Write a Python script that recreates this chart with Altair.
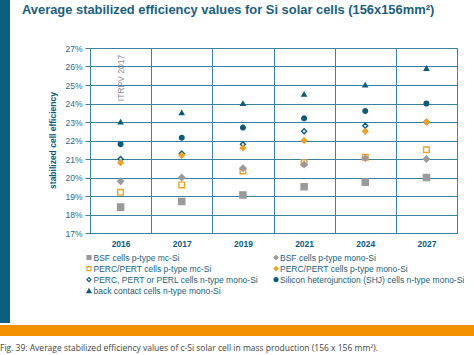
import altair as alt
import pandas as pd

years = ["2016", "2017", "2019", "2021", "2024", "2027"]
series_names = [
    "BSF cells p-type mc-Si",
    "PERC/PERT cells p-type mc-Si",
    "BSF cells p-type mono-Si",
    "PERC, PERT or PERL cells n-type mono-Si",
    "PERC/PERT cells p-type mono-Si",
    "Silicon heterojunction (SHJ) cells n-type mono-Si",
    "back contact cells n-type mono-Si",
]
bsf_mc = [18.4, 18.7, 19.05, 19.5, 19.75, 20.0]
perc_mc = [19.2, 19.6, 20.35, 20.8, 21.1, 21.5]
bsf_mono = [19.8, 20.0, 20.5, 20.7, 21.05, 21.0]
n_perc = [21.0, 21.3, 21.8, 22.5, 22.8, 23.0]
perc_mono = [20.8, 21.2, 21.6, 22.0, 22.5, 23.0]
shj = [21.8, 22.15, 22.7, 23.2, 23.6, 24.0]
bc = [23.0, 23.5, 24.0, 24.5, 25.0, 25.9]
values = [bsf_mc, perc_mc, bsf_mono, n_perc, perc_mono, shj, bc]

legend_order = [series_names[i] for i in [0, 2, 1, 4, 3, 5, 6]]
shapes = {series_names[0]: "square", series_names[1]: "square", series_names[2]: "diamond",
          series_names[3]: "diamond", series_names[4]: "diamond", series_names[5]: "circle",
          series_names[6]: "triangle-up"}
TEAL = "#0e5a7a"
GRAY = "#9a9a9a"
ORANGE = "#eda12a"
strokes = {series_names[0]: GRAY, series_names[1]: ORANGE, series_names[2]: GRAY,
           series_names[3]: TEAL, series_names[4]: ORANGE, series_names[5]: TEAL,
           series_names[6]: TEAL}
fills = {series_names[0]: GRAY, series_names[1]: "white", series_names[2]: GRAY,
         series_names[3]: "white", series_names[4]: ORANGE, series_names[5]: TEAL,
         series_names[6]: TEAL}
sizes = {series_names[0]: 38, series_names[1]: 38, series_names[2]: 18,
         series_names[3]: 34, series_names[4]: 18, series_names[5]: 42,
         series_names[6]: 38}

rows = []
for name, vals in zip(series_names, values):
    for y, v in zip(years, vals):
        rows.append({"year": y, "series": name, "eff": v})
df = pd.DataFrame(rows)

W, H = 367, 185
OX, OY = 90, 48

shape_scale = alt.Scale(domain=legend_order, range=[shapes[s] for s in legend_order])
stroke_scale = alt.Scale(domain=legend_order, range=[strokes[s] for s in legend_order])
fill_scale = alt.Scale(domain=legend_order, range=[fills[s] for s in legend_order])

points = alt.Chart(df).mark_point(filled=False, strokeWidth=1.4, opacity=1).encode(
    x=alt.X("year:N", sort=years, title=None,
            scale=alt.Scale(paddingInner=0, paddingOuter=0),
            axis=alt.Axis(tickBand="extent", ticks=False, domain=False, grid=True,
                          gridColor="#3a80a3", gridWidth=1, labelAngle=0,
                          labelFont="Liberation Sans", labelFontWeight="bold",
                          labelFontSize=8.5, labelColor=TEAL, labelPadding=6)),
    y=alt.Y("eff:Q", scale=alt.Scale(domain=[17, 27], nice=False, zero=False),
            axis=alt.Axis(values=list(range(17, 28)), labelExpr="datum.value + '%'",
                          grid=True, gridColor="#3a80a3", gridWidth=1,
                          domain=True, domainColor="#3a80a3", tickColor="#3a80a3",
                          tickSize=5, labelFont="Liberation Sans", labelFontSize=8.5,
                          labelColor="#2a6a88", labelPadding=3,
                          title="stabilized cell efficiency", titleFont="Liberation Sans",
                          titleFontSize=8.5, titleFontWeight="bold", titleColor=TEAL,
                          titleAngle=270, titleX=-38, titleY=92, titleAlign="center",
                          titleBaseline="middle")),
    shape=alt.Shape("series:N", scale=shape_scale, legend=None),
    stroke=alt.Stroke("series:N", scale=stroke_scale, legend=None),
    fill=alt.Fill("series:N", scale=fill_scale, legend=None),
    size=alt.Size("series:N", scale=alt.Scale(domain=legend_order,
                  range=[sizes[s] for s in legend_order]), legend=None),
)

# manual two-column legend (row-major order as in the reference)
leg_df = pd.DataFrame({
    "series": legend_order,
    "col": [i % 2 for i in range(len(legend_order))],
    "row": [i // 2 for i in range(len(legend_order))],
})
leg_base = alt.Chart(leg_df).transform_calculate(
    mx="datum.col == 0 ? -1 : 186",
    tx="datum.col == 0 ? 3.5 : 190",
    ly="209.5 + datum.row * 11.1",
)
leg_sym = leg_base.mark_point(filled=False, strokeWidth=1.2, size=16, opacity=1).encode(
    x=alt.X("mx:Q", scale=None), y=alt.Y("ly:Q", scale=None),
    shape=alt.Shape("series:N", scale=shape_scale, legend=None),
    stroke=alt.Stroke("series:N", scale=stroke_scale, legend=None),
    fill=alt.Fill("series:N", scale=fill_scale, legend=None),
)
leg_txt = leg_base.mark_text(align="left", baseline="middle", font="Liberation Sans",
                             fontSize=8.5, color="#1b5f7c").encode(
    x=alt.X("tx:Q", scale=None), y=alt.Y("ly:Q", scale=None), text="series:N")

deco_bar = alt.Chart(pd.DataFrame({"a": [0]})).mark_rect(color="#0b5f80").encode(
    x=alt.value(-OX), x2=alt.value(-OX + 10), y=alt.value(-OY), y2=alt.value(323 - OY))
orange_bar = alt.Chart(pd.DataFrame({"a": [0]})).mark_rect(color="#f39200").encode(
    x=alt.value(-OX), x2=alt.value(474 - OX), y=alt.value(325 - OY), y2=alt.value(336 - OY))

title = alt.Chart(pd.DataFrame({"t": ["Average stabilized efficiency values for Si solar cells (156x156mm²)"]})).mark_text(
    align="left", baseline="middle", font="Liberation Sans", fontWeight="bold",
    fontSize=12.9, color="#1b5f7c").encode(
    text="t:N", x=alt.value(22 - OX), y=alt.value(10 - OY))

caption = alt.Chart(pd.DataFrame({"t": ["Fig. 39: Average stabilized efficiency values of c-Si solar cell in mass production (156 x 156 mm²)."]})).mark_text(
    align="left", baseline="middle", font="Open Sans", fontSize=8.5, color="#444444").encode(
    text="t:N", x=alt.value(0 - OX), y=alt.value(348 - OY))

itrpv = alt.Chart(pd.DataFrame({"t": ["ITRPV 2017"]})).mark_text(
    align="center", baseline="middle", angle=270, font="Liberation Sans", fontSize=8.5,
    color="#8a8a8a").encode(text="t:N", x=alt.value(121 - OX), y=alt.value(78 - OY))

chart = alt.layer(deco_bar, orange_bar, points, leg_sym, leg_txt, title, caption, itrpv).properties(
    width=W, height=H,
    autosize=alt.AutoSizeParams(type="none"),
    padding={"left": OX, "top": OY, "right": 474 - OX - W, "bottom": 355 - OY - H},
).configure_view(stroke=None).configure(background="white")

chart.save("out.html", embed_options={"renderer": "svg", "actions": False})
